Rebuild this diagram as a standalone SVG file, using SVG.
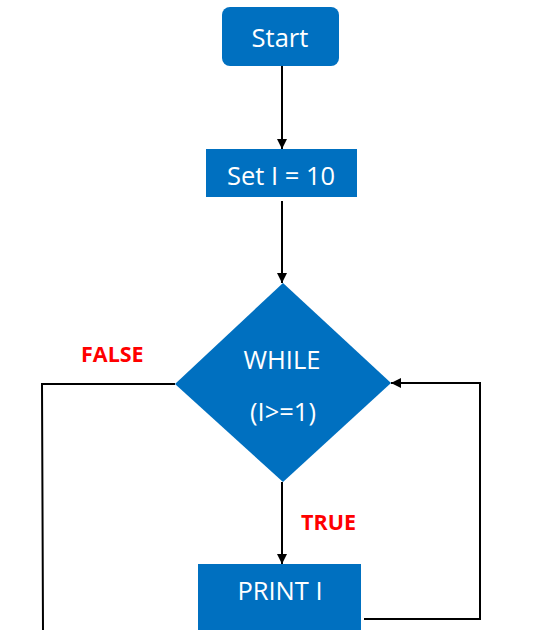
<svg xmlns="http://www.w3.org/2000/svg" width="533" height="630" viewBox="0 0 533 630">
<style>
.node{fill:#0070C0;}
.t{font-family:"Open Sans","Noto Sans",sans-serif;font-size:25.5px;fill:#FFFFFF;text-anchor:middle;}
.lbl{font-family:"Open Sans","Liberation Sans",sans-serif;font-size:21.5px;font-weight:bold;fill:#FF0000;}
.c{fill:none;stroke:#000000;stroke-width:2;}
</style>
<defs>
<marker id="ah" viewBox="0 0 10 10" refX="10" refY="5" markerWidth="10" markerHeight="10" markerUnits="userSpaceOnUse" orient="auto">
<path d="M0,0 L10,5 L0,10 z" fill="#000000"/>
</marker>
</defs>
<g id="connectors">
<line class="c" x1="282" y1="66" x2="282" y2="149" marker-end="url(#ah)"/>
<line class="c" x1="282" y1="201" x2="282" y2="283" marker-end="url(#ah)"/>
<line class="c" x1="282" y1="482" x2="282" y2="564" marker-end="url(#ah)"/>
<polyline class="c" points="175,384 42,384 43,630"/>
<polyline class="c" points="364,619 480,619 480,383 391,383" marker-end="url(#ah)"/>
<text class="lbl" x="81" y="362">FALSE</text>
<text class="lbl" x="301" y="530">TRUE</text>
</g>
<g id="start">
<rect class="node" x="222" y="7" width="117" height="59" rx="8"/>
<text class="t" x="280" y="47">Start</text>
</g>
<g id="set">
<rect class="node" x="206" y="149" width="151" height="48"/>
<text class="t" x="281" y="185">Set I = 10</text>
</g>
<g id="while">
<polygon class="node" points="283,283 391,383 283,482 175,384"/>
<text class="t" x="282" y="369">WHILE</text>
<text class="t" x="283" y="421">(I&gt;=1)</text>
</g>
<g id="print">
<rect class="node" x="198" y="564" width="163" height="80"/>
<text class="t" x="280" y="600">PRINT I</text>
</g>
</svg>
